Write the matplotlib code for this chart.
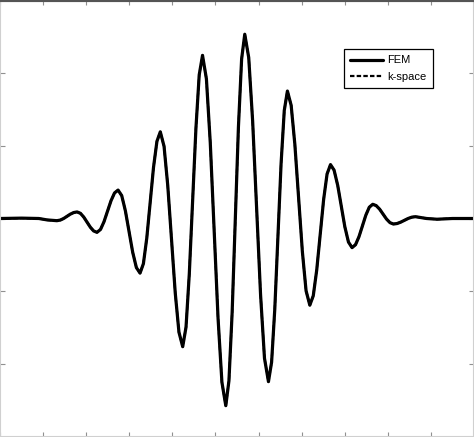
import matplotlib
matplotlib.use("Agg")
import matplotlib.pyplot as plt

# waveform (x in tick units, y in tick units)
time = [0.0, 0.5, 0.9, 1.1,
        1.32, 1.398, 1.477, 1.555, 1.633, 1.712,
        1.79, 1.867, 1.943, 2.02, 2.097, 2.173,
        2.25, 2.332, 2.413, 2.495, 2.577, 2.658,
        2.74, 2.825, 2.91, 2.995, 3.08, 3.165,
        3.25, 3.328, 3.407, 3.485, 3.563, 3.642,
        3.72, 3.807, 3.893, 3.98, 4.067, 4.153,
        4.24, 4.317, 4.393, 4.47, 4.547, 4.623,
        4.70, 4.79, 4.88, 4.97, 5.06, 5.15,
        5.24, 5.313, 5.387, 5.46, 5.533, 5.607,
        5.68, 5.772, 5.863, 5.955, 6.047, 6.138,
        6.23, 6.303, 6.377, 6.45, 6.523, 6.597,
        6.67, 6.757, 6.843, 6.93, 7.017, 7.103,
        7.19, 7.27, 7.35, 7.43, 7.51, 7.59,
        7.67, 7.753, 7.837, 7.92, 8.003, 8.087,
        8.17, 8.25, 8.33, 8.41, 8.49, 8.57,
        8.65, 8.73, 8.81, 8.89, 8.97, 9.05,
        9.13, 9.215, 9.3, 9.385, 9.47, 9.555,
        9.64, 9.9, 10.14, 10.5, 11.0]

fem = [0.0, 0.005, 0.0, -0.02,
       -0.03, -0.022, 0.0, 0.03, 0.06, 0.082,
       0.09, 0.071, 0.02, -0.05, -0.12, -0.171,
       -0.19, -0.151, -0.045, 0.10, 0.245, 0.351,
       0.39, 0.314, 0.105, -0.18, -0.465, -0.674,
       -0.75, -0.62, -0.265, 0.22, 0.705, 1.06,
       1.19, 0.992, 0.453, -0.285, -1.023, -1.562,
       -1.76, -1.492, -0.76, 0.24, 1.24, 1.972,
       2.24, 1.918, 1.038, -0.165, -1.368, -2.248,
       -2.57, -2.228, -1.295, -0.02, 1.255, 2.188,
       2.53, 2.21, 1.338, 0.145, -1.048, -1.92,
       -2.24, -1.973, -1.243, -0.245, 0.753, 1.483,
       1.75, 1.553, 1.015, 0.28, -0.455, -0.993,
       -1.19, -1.061, -0.708, -0.225, 0.258, 0.611,
       0.74, 0.664, 0.455, 0.17, -0.115, -0.324,
       -0.40, -0.36, -0.251, -0.103, 0.046, 0.155,
       0.195, 0.177, 0.128, 0.06, -0.008, -0.057,
       -0.076, -0.069, -0.05, -0.025, 0.0, 0.018,
       0.025, 0.0, -0.01, 0.0, 0.0]

# k-space result lies on top of the FEM curve
kspace = list(fem)

x_ticks = list(range(0, 12))
y_ticks = list(range(-3, 4))

fig = plt.figure(figsize=(4.74, 4.37), dpi=100)
ax = fig.add_axes([0, 0, 1, 1])

ax.plot(time, fem, color="black", linewidth=2.3, solid_joinstyle="round",
        solid_capstyle="round", label="FEM")
ax.plot(time, kspace, color="black", linewidth=1.6, linestyle=(0, (2, 1)),
        dash_joinstyle="round", label="k-space")

ax.set_xlim(0, 11)
ax.set_ylim(-3, 3)
ax.set_xticks(x_ticks)
ax.set_yticks(y_ticks)
ax.set_xticklabels([])
ax.set_yticklabels([])
ax.tick_params(direction="in", length=3.6, width=0.8, color="#909090",
               top=True, right=True)

for side in ["left", "right", "bottom"]:
    ax.spines[side].set_color("#d0d0d0")
    ax.spines[side].set_linewidth(1.5)
ax.spines["top"].set_color("#555555")
ax.spines["top"].set_linewidth(3.0)

leg = ax.legend(loc="upper right", bbox_to_anchor=(0.913, 0.887),
                prop={"family": "Liberation Sans", "size": 8},
                fancybox=False, edgecolor="black", framealpha=1,
                handlelength=3.0, handletextpad=0.4, borderpad=0.55,
                labelspacing=0.55, borderaxespad=0)
leg.get_frame().set_linewidth(0.9)

plt.savefig("out.png", dpi=100)
